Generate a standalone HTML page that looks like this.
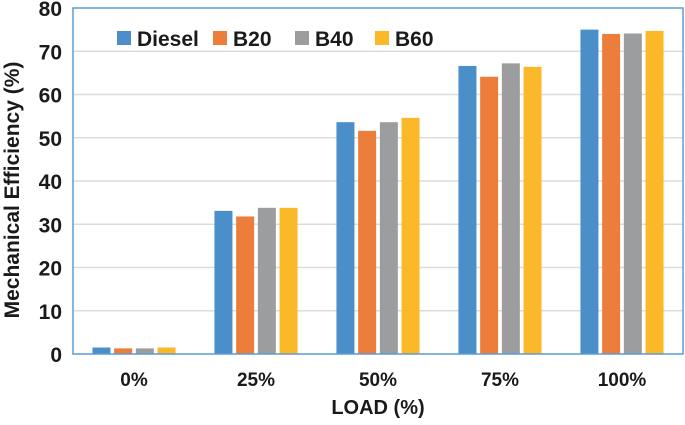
<!DOCTYPE html>
<html><head><meta charset="utf-8"><style>
html,body{margin:0;padding:0;background:#fff;}
svg text{font-family:"Liberation Sans",sans-serif;font-weight:bold;fill:#1a1a1a;}
</style></head><body>
<svg id="chart" width="685" height="420" viewBox="0 0 685 420">
<g id="grid"></g><g id="bars"></g><g id="axes"></g><g id="legend"></g>
<text x="19" y="190" font-size="21" text-anchor="middle" transform="rotate(-90 19 190)">Mechanical Efficiency (%)</text>
<text x="378" y="414" font-size="20" text-anchor="middle">LOAD (%)</text>
</svg>
<script>
const categories=["0%","25%","50%","75%","100%"];
const seriesNames=["Diesel","B20","B40","B60"];
const diesel=[1.5,33.1,53.6,66.6,75.0];
const b20=[1.3,31.8,51.6,64.1,74.0];
const b40=[1.3,33.8,53.6,67.2,74.1];
const b60=[1.5,33.8,54.6,66.4,74.7];
const yTicks=[0,10,20,30,40,50,60,70,80];
const series=[diesel,b20,b40,b60];
const colors=["#4a8fc9","#ec7d3a","#9b9d9e","#fbb92a"];
const NS="http://www.w3.org/2000/svg";
const L=73,R=683,T=8,B=354;
const y=v=>B-(v/80)*(B-T);
const band=(R-L)/categories.length;
const xc=i=>L+band*(i+0.5);
function mk(t,a,p){const e=document.createElementNS(NS,t);for(const k in a)e.setAttribute(k,a[k]);p.appendChild(e);return e;}
const grid=document.getElementById('grid'),axes=document.getElementById('axes'),bars=document.getElementById('bars'),leg=document.getElementById('legend');
yTicks.forEach(v=>{
 if(v>0&&v<80){const g=mk('line',{x1:L,x2:R,y1:y(v),y2:y(v),stroke:'#dcdcdc','stroke-width':1.5},grid);
 
 }
 const t=mk('text',{x:62,y:y(v)+8,'font-size':21,'text-anchor':'end'},axes);t.textContent=v;
 
 
});
const fr=mk('rect',{x:L,y:T,width:R-L,height:B-T,fill:'none',stroke:'#5b9bd5','stroke-width':1.5},axes);


const bw=18,pitch=21.7;
categories.forEach((c,i)=>{
 series.forEach((s,j)=>{
  const x=xc(i)-2*pitch+j*pitch+(pitch-bw)/2;
  const r=mk('rect',{x:x,y:y(s[i]),width:bw,height:B-y(s[i]),fill:colors[j]},bars);
  
  
 });
 const t=mk('text',{x:xc(i),y:386,'font-size':19,'text-anchor':'middle'},axes);t.textContent=c;
 
 
});
const lx=[117,213,295,375];
seriesNames.forEach((n,j)=>{
 const g=mk('g',{},leg);
 
 
 mk('rect',{x:lx[j],y:31,width:14,height:14,fill:colors[j]},g);
 const t=mk('text',{x:lx[j]+20,y:46,'font-size':21},g);t.textContent=n;
});
</script>
</body></html>
